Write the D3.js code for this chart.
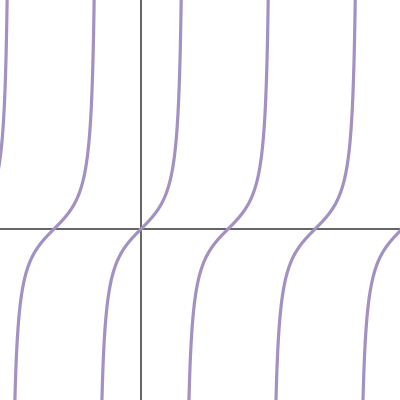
<!DOCTYPE html>
<html><head><meta charset="utf-8">
<script src="https://cdn.jsdelivr.net/npm/d3@7"></script>
<style>body{margin:0;background:#fff}</style></head>
<body><svg id="c" width="400" height="400"></svg>
<script>
const xDomain = [-5.09, 9.35];
const yDomain = [-6.16, 8.25];
const fnName = ["tan"];
const W = 400, H = 400;
const x = d3.scaleLinear().domain(xDomain).range([0, W]);
const y = d3.scaleLinear().domain(yDomain).range([H, 0]);
const svg = d3.select("#c");
svg.append("defs").append("clipPath").attr("id","cl").append("rect").attr("width",W).attr("height",H);
svg.append("line").attr("x1",x(0)).attr("x2",x(0)).attr("y1",0).attr("y2",H).attr("stroke","#333").attr("stroke-width",1.5);
svg.append("line").attr("y1",y(0)).attr("y2",y(0)).attr("x1",0).attr("x2",W).attr("stroke","#333").attr("stroke-width",1.5);
const line = d3.line().x(d=>x(d[0])).y(d=>y(d[1]));
const kMin = Math.floor(xDomain[0]/Math.PI - 0.5), kMax = Math.ceil(xDomain[1]/Math.PI + 0.5);
for (let k = kMin; k <= kMax; k++) {
  const a = (k-0.5)*Math.PI, b = (k+0.5)*Math.PI;
  const pts = d3.range(a+0.02, b-0.02, 0.005).map(t => [t, Math.max(-50, Math.min(50, Math[fnName[0]](t)))]);
  svg.append("path").datum(pts).attr("d", line).attr("clip-path","url(#cl)")
    .attr("fill","none").attr("stroke","#a391c4").attr("stroke-width",3.2);
}
</script></body></html>
